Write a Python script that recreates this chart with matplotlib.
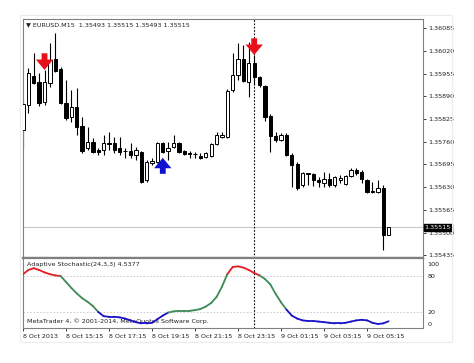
import matplotlib
matplotlib.use("Agg")
import matplotlib.pyplot as plt
import matplotlib.transforms as mtransforms
from matplotlib.patches import Rectangle

# EURUSD M15 candles, 8 Oct 2013 13:15 onwards
opens = [1.35794, 1.35865, 1.35948, 1.35931, 1.35874, 1.35928, 1.35997, 1.35968, 1.35871, 1.35831,
         1.35860, 1.35805, 1.35742, 1.35759, 1.35737, 1.35737, 1.35757, 1.35757, 1.35742, 1.35734,
         1.35734, 1.35722, 1.35731, 1.35651, 1.35699, 1.35702, 1.35757, 1.35734, 1.35745, 1.35757,
         1.35734, 1.35728, 1.35725, 1.35719, 1.35716, 1.35719, 1.35754, 1.35774, 1.35774, 1.35908,
         1.35951, 1.35997, 1.35931, 1.35986, 1.35946, 1.35920, 1.35834, 1.35777, 1.35765, 1.35779,
         1.35722, 1.35696, 1.35636, 1.35668, 1.35668, 1.35651, 1.35642, 1.35654, 1.35636, 1.35651,
         1.35639, 1.35662, 1.35679, 1.35674, 1.35651, 1.35619, 1.35616, 1.35628, 1.35493]
highs = [1.35880, 1.35971, 1.36014, 1.35957, 1.35966, 1.36043, 1.36072, 1.35974, 1.35937, 1.35908,
         1.35914, 1.35831, 1.35802, 1.35771, 1.35742, 1.35779, 1.35788, 1.35774, 1.35774, 1.35742,
         1.35757, 1.35745, 1.35734, 1.35708, 1.35714, 1.35759, 1.35759, 1.35759, 1.35779, 1.35759,
         1.35737, 1.35734, 1.35731, 1.35728, 1.35731, 1.35757, 1.35788, 1.35788, 1.35911, 1.36014,
         1.36043, 1.36037, 1.36046, 1.36009, 1.35948, 1.35923, 1.35840, 1.35788, 1.35785, 1.35785,
         1.35728, 1.35702, 1.35674, 1.35671, 1.35671, 1.35659, 1.35674, 1.35671, 1.35662, 1.35665,
         1.35665, 1.35685, 1.35685, 1.35679, 1.35654, 1.35645, 1.35651, 1.35636, 1.35515]
lows = [1.35742, 1.35842, 1.35926, 1.35862, 1.35865, 1.35917, 1.35960, 1.35868, 1.35822, 1.35817,
        1.35779, 1.35728, 1.35737, 1.35728, 1.35722, 1.35722, 1.35737, 1.35728, 1.35722, 1.35714,
        1.35714, 1.35708, 1.35642, 1.35645, 1.35694, 1.35699, 1.35728, 1.35708, 1.35742, 1.35728,
        1.35722, 1.35714, 1.35714, 1.35712, 1.35714, 1.35716, 1.35751, 1.35771, 1.35771, 1.35903,
        1.35937, 1.35931, 1.35888, 1.35923, 1.35917, 1.35820, 1.35731, 1.35759, 1.35762, 1.35719,
        1.35631, 1.35622, 1.35631, 1.35636, 1.35634, 1.35631, 1.35631, 1.35631, 1.35631, 1.35642,
        1.35636, 1.35659, 1.35665, 1.35642, 1.35613, 1.35613, 1.35613, 1.35450, 1.35493]
closes = [1.35868, 1.35957, 1.35928, 1.35871, 1.35931, 1.35994, 1.35963, 1.35871, 1.35828, 1.35860,
          1.35802, 1.35734, 1.35759, 1.35731, 1.35731, 1.35757, 1.35754, 1.35737, 1.35731, 1.35733,
          1.35722, 1.35737, 1.35645, 1.35702, 1.35705, 1.35757, 1.35731, 1.35742, 1.35757, 1.35731,
          1.35725, 1.35725, 1.35724, 1.35715, 1.35728, 1.35754, 1.35779, 1.35779, 1.35905, 1.35951,
          1.35997, 1.35934, 1.35986, 1.35946, 1.35923, 1.35831, 1.35777, 1.35765, 1.35779, 1.35722,
          1.35694, 1.35628, 1.35671, 1.35671, 1.35651, 1.35645, 1.35654, 1.35636, 1.35659, 1.35656,
          1.35662, 1.35679, 1.35671, 1.35654, 1.35616, 1.35616, 1.35628, 1.35493, 1.35515]

# Adaptive Stochastic(24,3,3)
stoch = [83, 90, 93, 90, 86, 83, 81, 80, 70, 60, 51, 43, 37, 30, 20, 13, 12, 12, 11, 9,
         6, 3, 1, 1, 2, 8, 14, 19, 21, 22, 22, 22, 23, 25, 29, 35, 45, 62, 83, 95,
         96, 94, 90, 85, 81, 75, 66, 50, 36, 24, 14, 9, 6, 5, 5, 4, 3, 2, 1, 1,
         2, 4, 6, 7, 6, 2, 0, 1, 4.5377]

sell_bars = [4, 43]
buy_bars = [26]
separator_bar = 43

price_ticks = [1.36085, 1.36020, 1.35955, 1.35890, 1.35825, 1.35760, 1.35695, 1.35630, 1.35565, 1.35500, 1.35435]
time_ticks = [0, 8, 16, 24, 32, 40, 48, 56, 64]
time_labels = ["8 Oct 2013", "8 Oct 15:15", "8 Oct 17:15", "8 Oct 19:15", "8 Oct 21:15",
               "8 Oct 23:15", "9 Oct 01:15", "9 Oct 03:15", "9 Oct 05:15"]

fs = 4.6
frame_col = "#808080"
arrow_style = "simple,head_width=1.25,head_length=0.75,tail_width=0.42"

fig = plt.figure(figsize=(4.74, 3.63), dpi=100)
fig.patches.append(Rectangle((20 / 474, 1 - 342 / 363), 432 / 474, 327 / 363, transform=fig.transFigure,
                             fill=False, edgecolor="#ececec", lw=0.8))

ax = fig.add_axes([23 / 474, 1 - 258 / 363, 400 / 474, 239 / 363])
ax2 = fig.add_axes([23 / 474, 1 - 328 / 363, 400 / 474, 70 / 363])

n = len(closes)
xs = list(range(n))

# candles
ax.vlines(xs, lows, highs, color="black", lw=0.8, zorder=2)
bottoms = [min(o, c) for o, c in zip(opens, closes)]
heights = [max(abs(c - o), 0.000015) for o, c in zip(opens, closes)]
fills = ["white" if c >= o else "black" for o, c in zip(opens, closes)]
ax.bar(xs, heights, bottom=bottoms, width=0.62, color=fills, edgecolor="black", lw=0.7, zorder=3)

# signal arrows
for b in sell_bars:
    ax.annotate("", xy=(b, highs[b]), xycoords="data", xytext=(0, 12), textcoords="offset points",
                arrowprops=dict(arrowstyle=arrow_style, color="#e8101a", lw=0, shrinkA=0, shrinkB=0),
                zorder=5)
for b in buy_bars:
    ax.annotate("", xy=(b, lows[b]), xycoords="data", xytext=(0, -15), textcoords="offset points",
                arrowprops=dict(arrowstyle=arrow_style, color="#1010d0", lw=0, shrinkA=0, shrinkB=3.5),
                zorder=5)

ax.set_xlim(0, 74.4)
ax.set_ylim(1.35427, 1.36112)
ax.axhline(closes[-1], color="#c8c8c8", lw=0.8, zorder=1)
ax.axvline(separator_bar, color="black", lw=0.8, ls=(0, (1.5, 1.5)), zorder=1)
ax2.axvline(separator_bar, color="black", lw=0.8, ls=(0, (1.5, 1.5)), zorder=1)

ax.yaxis.tick_right()
ax.set_yticks(price_ticks)
ax.set_yticklabels(["%.5f" % p for p in price_ticks])
ax.tick_params(axis="y", labelsize=fs, length=2, width=0.6, pad=1.5, colors="#202020")
ax.set_xticks([])
for s in ax.spines.values():
    s.set_color(frame_col)
    s.set_linewidth(0.8)
ax.spines["bottom"].set_linewidth(1.6)

trans = mtransforms.blended_transform_factory(ax.transAxes, ax.transData)
ax.text(1.004, closes[-1], "%.5f" % closes[-1], transform=trans, fontsize=fs, color="white",
        va="center", ha="left", zorder=6,
        bbox=dict(boxstyle="square,pad=0.15", fc="black", ec="black"))

ax.text(0.008, 0.985, "\u25bc EURUSD.M15  %.5f %.5f %.5f %.5f" % (opens[-1], highs[-1], lows[-1], closes[-1]),
        transform=ax.transAxes, fontsize=fs, va="top", ha="left", color="#202020")

# indicator line coloured by zone
for i in range(n - 1):
    mid = (stoch[i] + stoch[i + 1]) / 2
    if mid > 80:
        col = "#e41e26"
    elif mid < 20:
        col = "#1a10c8"
    else:
        col = "#3e8a55"
    ax2.plot([i, i + 1], [stoch[i], stoch[i + 1]], color=col, lw=1.3, solid_capstyle="round", zorder=3)

ax2.axhline(80, color="#c8c8c8", lw=0.6, ls=(0, (2, 2)), zorder=1)
ax2.axhline(20, color="#c8c8c8", lw=0.6, ls=(0, (2, 2)), zorder=1)
ax2.set_xlim(0, 74.4)
ax2.set_ylim(-6.7, 110)
ax2.yaxis.tick_right()
ax2.set_yticks([100, 80, 20, 0])
ax2.tick_params(axis="y", labelsize=fs, length=0, pad=3, colors="#202020")
ax2.set_xticks(time_ticks)
ax2.set_xticklabels(time_labels, ha="left")
ax2.tick_params(axis="x", labelsize=fs, length=2.5, width=0.6, pad=1.5, colors="#202020")
for s in ax2.spines.values():
    s.set_color(frame_col)
    s.set_linewidth(0.8)
ax2.spines["top"].set_linewidth(1.6)

ax2.text(0.01, 0.94, "Adaptive Stochastic(24,3,3) %.4f" % stoch[-1], transform=ax2.transAxes,
         fontsize=fs, va="top", ha="left", color="#202020")
ax2.text(0.01, 0.06, "MetaTrader 4, \u00a9 2001-2014, MetaQuotes Software Corp.", transform=ax2.transAxes,
         fontsize=fs, va="bottom", ha="left", color="#202020", zorder=2)

fig.savefig("out.png", dpi=100)
